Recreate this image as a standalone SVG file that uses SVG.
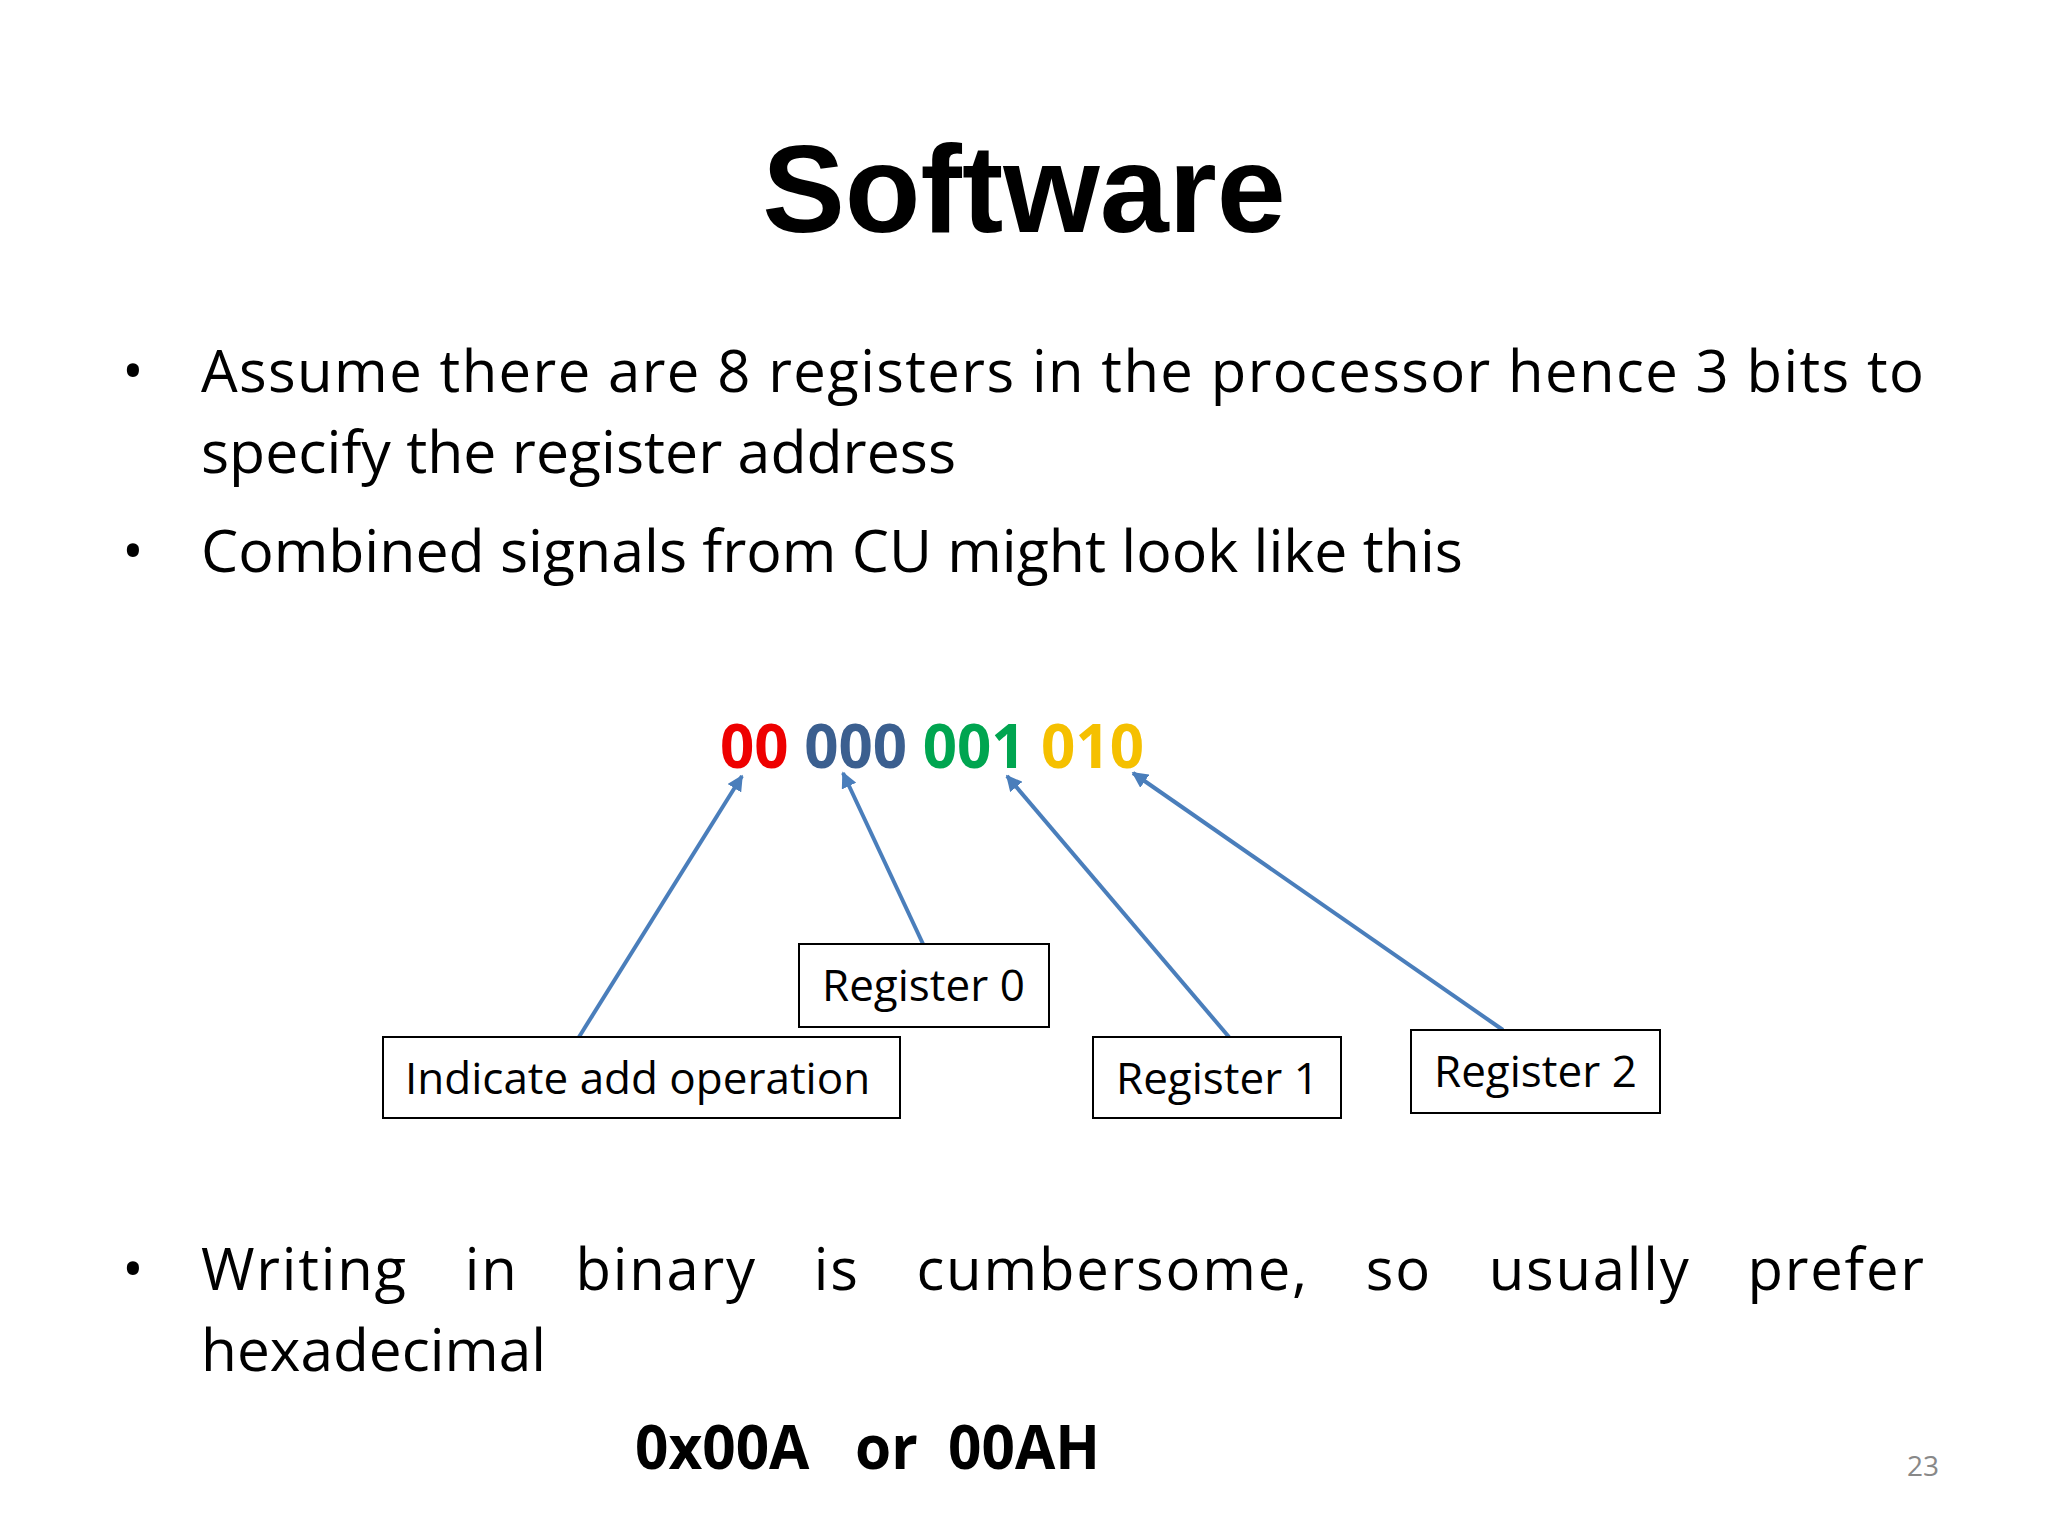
<svg xmlns="http://www.w3.org/2000/svg" width="2048" height="1536" viewBox="0 0 2048 1536">
<style>
.t{font-family:"Open Sans","Liberation Sans",sans-serif;fill:#000}
.b{font-size:58px}
.bx{fill:#fff;stroke:#000;stroke-width:2}
.bl{font-size:44px}
.c{stroke:#4a7ebb;stroke-width:4;fill:none;marker-end:url(#a)}
.n{font-family:"Open Sans","Liberation Sans",sans-serif;font-weight:bold;font-size:60px}
</style>
<defs><marker id="a" viewBox="0 0 10 10" refX="9" refY="5" markerWidth="4" markerHeight="4" orient="auto"><path d="M0,0L10,5L0,10z" fill="#4a7ebb"/></marker></defs>
<rect width="2048" height="1536" fill="#fff"/>
<text class="t" x="1024" y="232" text-anchor="middle" font-family="Liberation Sans" font-weight="bold" font-size="124" style="font-family:'Liberation Sans',sans-serif">Software</text>
<g id="text">
<text class="t b" x="122" y="392">•</text>
<text class="t b" x="201" y="392" textLength="1723" lengthAdjust="spacing">Assume there are 8 registers in the processor hence 3 bits to</text>
<text class="t b" x="201" y="473" textLength="755" lengthAdjust="spacingAndGlyphs">specify the register address</text>
<text class="t b" x="122" y="572">•</text>
<text class="t b" x="201" y="572" textLength="1262" lengthAdjust="spacingAndGlyphs">Combined signals from CU might look like this</text>
<text class="t b" x="122" y="1290">•</text>
<text class="t b" x="201" y="1290" textLength="1723" lengthAdjust="spacing" word-spacing="40">Writing in binary is cumbersome, so usually prefer</text>
<text class="t b" x="201" y="1371" textLength="345" lengthAdjust="spacingAndGlyphs">hexadecimal</text>
<text class="n" x="635" y="1469" textLength="465" lengthAdjust="spacingAndGlyphs" xml:space="preserve">0x00A   or  00AH</text>
<text x="1907" y="1476" font-family="Open Sans,sans-serif" font-size="28" fill="#888">23</text>
</g>
<g id="bits">
<text class="n" x="720" y="768" textLength="424" lengthAdjust="spacingAndGlyphs"><tspan fill="#e00">00</tspan> <tspan fill="#3b5f8f">000</tspan> <tspan fill="#00a550">001</tspan> <tspan fill="#f5c000">010</tspan></text>
</g>
<g id="connectors">
<line class="c" x1="579" y1="1037" x2="742" y2="776"/>
<line class="c" x1="923" y1="944" x2="843" y2="773"/>
<line class="c" x1="1229" y1="1037" x2="1007" y2="776"/>
<line class="c" x1="1503" y1="1030" x2="1133" y2="773"/>
</g>
<g id="n-add"><rect class="bx" x="383" y="1037" width="517" height="81"/><text class="t bl" x="405" y="1094">Indicate add operation</text></g>
<g id="n-r0"><rect class="bx" x="799" y="944" width="250" height="83"/><text class="t bl" x="822" y="1001">Register 0</text></g>
<g id="n-r1"><rect class="bx" x="1093" y="1037" width="248" height="81"/><text class="t bl" x="1116" y="1094">Register 1</text></g>
<g id="n-r2"><rect class="bx" x="1411" y="1030" width="249" height="83"/><text class="t bl" x="1434" y="1087">Register 2</text></g>
</svg>
